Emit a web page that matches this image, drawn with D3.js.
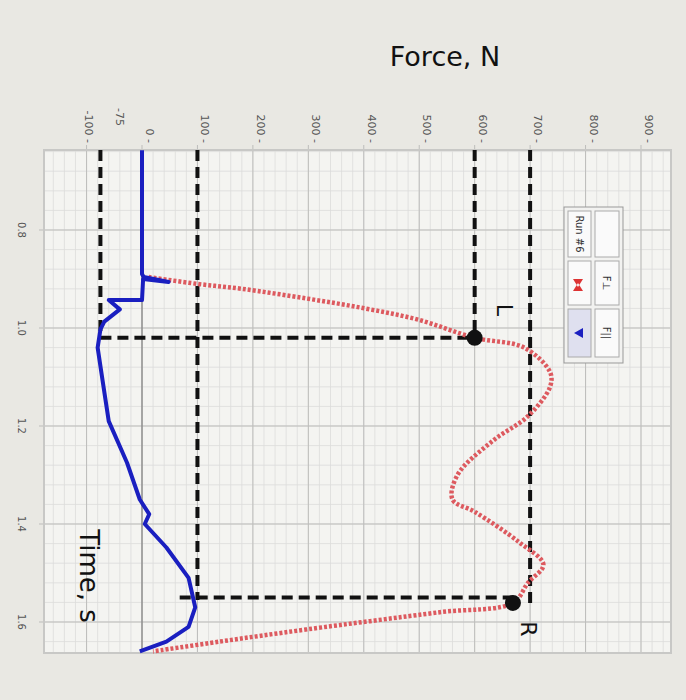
<!DOCTYPE html>
<html><head><meta charset="utf-8">
<script src="https://cdn.jsdelivr.net/npm/d3@7"></script>
<style>body{margin:0;background:#e9e8e3}text{font-family:"DejaVu Sans",sans-serif}</style>
</head><body>
<svg id="c" width="686" height="700"></svg>
<script>
const forceTicks = [-100, 0, 100, 200, 300, 400, 500, 600, 700, 800, 900]
const timeTicks = [0.8, 1.0, 1.2, 1.4, 1.6]
// blue run (time s, force N)
const blueT = [0.637, 0.84, 0.89, 0.896, 0.906, 0.9, 0.943, 0.943, 0.962, 0.987, 1.003, 1.04, 1.108, 1.19, 1.275, 1.35, 1.38, 1.40, 1.448, 1.51, 1.57, 1.61, 1.64, 1.66]
const blueF = [0, 0, 0, 3, 48, 2, 0, -60, -40, -68, -75, -80, -71, -60, -27, -4, 13, 5, 44, 84, 96, 84, 44, -4]
// red run
const redT = [0.896, 0.91, 0.92, 0.94, 0.96, 0.983, 1.02, 1.04, 1.09, 1.12, 1.18, 1.23, 1.30, 1.35, 1.375, 1.437, 1.483, 1.52, 1.561, 1.58, 1.615, 1.64, 1.66]
const redF = [12, 100, 180, 298, 402, 498, 600, 689, 736, 736, 696, 633, 569, 560, 600, 680, 724, 696, 669, 537, 298, 140, 20]
// marked points and guide lines
const markT = [1.02, 1.561], markF = [600, 669], markLab = ["L", "R"]

const svg = d3.select("#c")
const x = d3.scaleLinear().domain([0, 900]).range([142, 641])
const y = d3.scaleLinear().domain([0.8, 1.6]).range([230, 622])
const [x0, x1] = [44, 671], [y0, y1] = [150, 653]

svg.append("rect").attr("x", x0).attr("y", y0).attr("width", x1 - x0).attr("height", y1 - y0).attr("fill", "#f4f4f1")
const g = svg.append("g")
// minor grid
for (let f = -160; f <= 960; f += 20) if (x(f) >= x0 && x(f) <= x1)
  g.append("line").attr("x1", x(f)).attr("x2", x(f)).attr("y1", y0).attr("y2", y1).attr("stroke", "#dcdcda").attr("stroke-width", 0.8)
for (let t = 0.64; t <= 1.66; t += 0.04)
  g.append("line").attr("y1", y(t)).attr("y2", y(t)).attr("x1", x0).attr("x2", x1).attr("stroke", "#dcdcda").attr("stroke-width", 0.8)
g.selectAll(".gf").data(forceTicks).join("line").attr("x1", d => x(d)).attr("x2", d => x(d)).attr("y1", y0 - 5).attr("y2", y1).attr("stroke", "#bdbdbb")
g.selectAll(".gt").data(timeTicks).join("line").attr("y1", d => y(d)).attr("y2", d => y(d)).attr("x1", x0 - 5).attr("x2", x1).attr("stroke", "#bdbdbb")
g.append("line").attr("x1", x(0)).attr("x2", x(0)).attr("y1", y0).attr("y2", y1).attr("stroke", "#777")
svg.append("rect").attr("x", x0).attr("y", y0).attr("width", x1 - x0).attr("height", y1 - y0).attr("fill", "none").attr("stroke", "#c8c8c6").attr("stroke-width", 2)

// tick labels (rotated)
svg.selectAll(".fl").data(forceTicks.concat([-75])).join("text")
  .attr("transform", d => `translate(${x(d) + (d === -75 ? 16 : d === -100 ? -2 : 4)},${d === -75 ? 126 : 143}) rotate(90)`)
  .attr("text-anchor", "end").attr("font-size", 11).attr("fill", "#555").text(d => d + (d === -75 ? "" : " -"))
svg.selectAll(".tl").data(timeTicks).join("text")
  .attr("transform", d => `translate(18,${y(d)}) rotate(90)`).attr("text-anchor", "middle")
  .attr("font-size", 10).attr("fill", "#555").text(d => d.toFixed(1))

svg.append("text").attr("x", 445).attr("y", 66).attr("text-anchor", "middle").attr("font-size", 27).attr("fill", "#111").text("Force, N")
svg.append("text").attr("transform", "translate(80,576) rotate(90)").attr("text-anchor", "middle").attr("font-size", 26).attr("fill", "#111").text("Time, s")

// dashed guides
const dash = (xa, ya, xb, yb) => svg.append("line").attr("x1", xa).attr("y1", ya).attr("x2", xb).attr("y2", yb)
  .attr("stroke", "#111").attr("stroke-width", 4).attr("stroke-dasharray", "11,6")
dash(x(-75), y0, x(-75), y(markT[0]))
dash(x(100), y0, x(100), y(1.555))
dash(x(600), y0, x(600), y(markT[0]))
dash(x(700), y0, x(700), y(markT[1]))
dash(x(-75), y(markT[0]), x(600), y(markT[0]))
dash(x(68), y(1.55), x(markF[1]), y(1.55))

const line = d3.line().curve(d3.curveCatmullRom)
svg.append("path").attr("d", line(redT.map((t, i) => [x(redF[i]), y(t)])))
  .attr("fill", "none").attr("stroke", "#dd5a5f").attr("stroke-width", 4.5).attr("stroke-dasharray", "3,2")
svg.append("path").attr("d", d3.line()(blueT.map((t, i) => [x(blueF[i]), y(t)])))
  .attr("fill", "none").attr("stroke", "#1a1fc0").attr("stroke-width", 4).attr("stroke-linejoin", "round")

svg.selectAll(".m").data(markT).join("circle").attr("cx", (d, i) => x(markF[i])).attr("cy", d => y(d)).attr("r", 8).attr("fill", "#111")
svg.selectAll(".ml").data(markLab).join("text")
  .attr("transform", (d, i) => i ? `translate(${x(markF[i]) + 8},${y(markT[i]) + 26}) rotate(90)` : `translate(${x(markF[i]) + 22},${y(markT[i]) - 28}) rotate(90)`)
  .attr("font-size", 22).attr("fill", "#111").attr("text-anchor", "middle").text(d => d)

// legend (rotated)
const lg = svg.append("g").attr("transform", "translate(623,207) rotate(90)")
lg.append("rect").attr("width", 156).attr("height", 59).attr("fill", "#f2f2f0").attr("stroke", "#999")
const cells = [[4, 4, 46, 24, ""], [54, 4, 44, 24, "F⊥"], [102, 4, 48, 24, "F||"], [4, 32, 46, 23, "Run #6"], [54, 32, 44, 23, ""], [102, 32, 48, 23, ""]]
cells.forEach(c => {
  lg.append("rect").attr("x", c[0]).attr("y", c[1]).attr("width", c[2]).attr("height", c[3]).attr("fill", c[0] === 102 && c[1] === 32 ? "#dfe0ef" : "#fafafa").attr("stroke", "#aaa")
  lg.append("text").attr("x", c[0] + c[2] / 2).attr("y", c[1] + c[3] / 2 + 4).attr("text-anchor", "middle").attr("font-size", 10).attr("fill", "#333").text(c[4])
})
lg.append("path").attr("d", "M72,40 L80,45 L72,50 Z M84,40 L76,45 L84,50 Z").attr("fill", "#d33")
lg.append("path").attr("d", "M121,40 L131,40 L126,49 Z").attr("fill", "#1a1fc0")
</script>
</body></html>
